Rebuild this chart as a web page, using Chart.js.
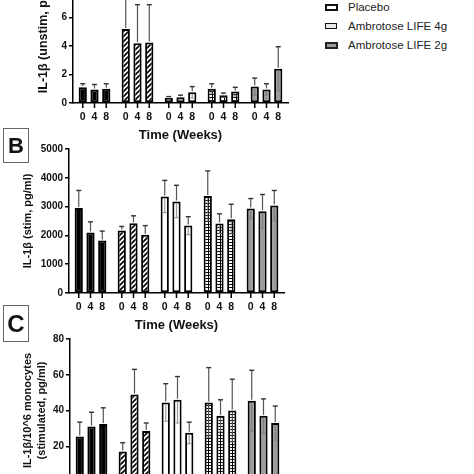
<!DOCTYPE html>
<html>
<head>
<meta charset="utf-8">
<script src="https://cdn.jsdelivr.net/npm/chart.js@4.4.1/dist/chart.umd.min.js"></script>
<style>
  html, body { margin: 0; padding: 0; background: #fff; overflow: hidden; width: 474px; height: 474px; position: relative; }
  canvas { position: absolute; left: 0; }
  #cA { top: -50px; }
  #cB { top: 140px; }
  #cC { top: 330px; }
  .panel { position: absolute; left: 3px; width: 24px; border: 1px solid #666; text-align: center;
           font: bold 22px Arial, "Liberation Sans", sans-serif; color: #111; }
  #legend { position: absolute; left: 325px; top: 0; font: 11.5px Arial, "Liberation Sans", sans-serif; color: #222; }
  .item { position: absolute; left: 0; height: 19px; line-height: 19px; white-space: nowrap; padding-left: 23px; }
  .icon { position: absolute; left: 0; top: 6px; width: 9px; height: 3px; border: 2px solid #111; }
</style>
</head>
<body>
<canvas id="cA" width="289" height="193"></canvas>
<canvas id="cB" width="285" height="193"></canvas>
<canvas id="cC" width="286" height="192"></canvas>
<div class="panel" style="top:128px;height:33px;line-height:33px">B</div>
<div class="panel" style="top:305px;height:35px;line-height:35px;font-size:24px">C</div>
<div id="legend"></div>

<script>
// Données (moyenne et barre d'erreur, par groupe : semaines 0, 4, 8)
const groupes = ['Groupe 1', 'Groupe 2', 'Placebo', 'Ambrotose LIFE 4g', 'Ambrotose LIFE 2g'];
const semaines = ['0', '4', '8'];
const legendeVisible = ['Placebo', 'Ambrotose LIFE 4g', 'Ambrotose LIFE 2g'];

// A : IL-1β non stimulé
const moyA = [[1.1, 0.95, 1.0], [5.2, 4.2, 4.25], [0.35, 0.4, 0.75], [1.0, 0.55, 0.8], [1.15, 0.95, 2.4]];
const errA = [[0.25, 0.35, 0.35], [3.0, 2.7, 2.65], [0.1, 0.15, 0.4], [0.35, 0.15, 0.3], [0.6, 0.4, 1.55]];
const ticksA = [0, 2, 4, 6, 8, 10];

// B : IL-1β stimulé
const moyB = [[2950, 2100, 1820], [2170, 2420, 2020], [3350, 3180, 2340], [3370, 2410, 2565], [2930, 2840, 3035]];
const errB = [[610, 370, 330], [140, 260, 320], [560, 560, 310], [870, 340, 515], [350, 580, 525]];
const ticksB = [0, 1000, 2000, 3000, 4000, 5000];

// C : IL-1β / 10^6 monocytes
const moyC = [[25.5, 31, 32.5], [17, 49, 28.5], [44.5, 46, 27.5], [44.5, 37, 40], [45.5, 37, 33]];
const errC = [[8, 8, 9], [5, 14, 4.5], [10.5, 13, 6], [19.5, 9, 17.5], [17, 9.5, 9.5]];
const ticksC = [0, 20, 40, 60, 80];

const POLICE = 'Arial, "Liberation Sans", sans-serif';
Chart.defaults.font.family = POLICE;
Chart.defaults.color = '#111';

// Motifs de remplissage
function motif(dessin, w, h) {
  const c = document.createElement('canvas');
  c.width = w; c.height = h;
  const g = c.getContext('2d');
  g.fillStyle = '#fff';
  g.fillRect(0, 0, w, h);
  g.fillStyle = '#000';
  g.strokeStyle = '#000';
  dessin(g, w, h);
  return g.createPattern(c, 'repeat');
}

const hachures = motif((g, w, h) => {
  g.lineWidth = 1.7;
  g.beginPath();
  g.moveTo(0, h); g.lineTo(w, 0);
  g.moveTo(-1, 1); g.lineTo(1, -1);
  g.moveTo(w - 1, h + 1); g.lineTo(w + 1, h - 1);
  g.stroke();
}, 5, 5);

const grille = motif((g, w, h) => {
  g.fillRect(0, 0, w, 1);
  g.fillRect(0, 0, 1, h);
}, 4, 3);

const remplissages = ['#000', hachures, '#fff', grille, '#9b9b9b'];
const moustacheBasse = [false, false, true, true, true];

// Barres d'erreur
const barresErreur = {
  id: 'barresErreur',
  afterDatasetsDraw(chart) {
    const ctx = chart.ctx;
    const y = chart.scales.y;
    ctx.save();
    chart.data.datasets.forEach((ds, di) => {
      chart.getDatasetMeta(di).data.forEach((bar, i) => {
        const v = ds.data[i], e = ds.erreurs[i];
        const yv = y.getPixelForValue(v);
        const yh = y.getPixelForValue(v + e);
        ctx.lineWidth = 1.2;
        ctx.strokeStyle = '#555';
        ctx.beginPath();
        ctx.moveTo(bar.x, yv - 1);
        ctx.lineTo(bar.x, yh);
        ctx.stroke();
        ctx.strokeStyle = '#333';
        ctx.lineWidth = 1.4;
        ctx.beginPath();
        ctx.moveTo(bar.x - 2.5, yh);
        ctx.lineTo(bar.x + 2.5, yh);
        ctx.stroke();
        if (moustacheBasse[i]) {
          const yb = y.getPixelForValue(Math.max(v - e, 0));
          ctx.strokeStyle = 'rgba(120,120,120,0.75)';
          ctx.lineWidth = 1.2;
          ctx.beginPath();
          ctx.moveTo(bar.x, yv + 2);
          ctx.lineTo(bar.x, yb);
          ctx.moveTo(bar.x - 2, yb);
          ctx.lineTo(bar.x + 2, yb);
          ctx.stroke();
        }
      });
    });
    ctx.restore();
  }
};

// Graduations 0 / 4 / 8 sous chaque barre
const etiquettesX = {
  id: 'etiquettesX',
  afterDraw(chart) {
    const ctx = chart.ctx;
    const bas = chart.chartArea.bottom;
    ctx.save();
    ctx.strokeStyle = '#000';
    ctx.lineWidth = 1.5;
    ctx.fillStyle = '#111';
    ctx.font = 'bold 10.5px ' + POLICE;
    ctx.textAlign = 'center';
    ctx.textBaseline = 'middle';
    chart.data.datasets.forEach((ds, di) => {
      chart.getDatasetMeta(di).data.forEach(bar => {
        ctx.beginPath();
        ctx.moveTo(bar.x, bas);
        ctx.lineTo(bar.x, bas + 5);
        ctx.stroke();
        ctx.fillText(ds.label, bar.x, bas + 14);
      });
    });
    ctx.restore();
  }
};

function graphique(id, moy, err, graduations, titreY, cfg) {
  const datasets = semaines.map((s, k) => ({
    label: s,
    data: moy.map(g => g[k]),
    erreurs: err.map(g => g[k]),
    backgroundColor: remplissages,
    borderColor: '#000',
    borderWidth: 2,
    borderSkipped: false,
    barPercentage: 0.7,
    categoryPercentage: 0.82
  }));

  return new Chart(document.getElementById(id), {
    type: 'bar',
    data: { labels: groupes, datasets },
    options: {
      responsive: false,
      animation: false,
      layout: { padding: { top: cfg.padHaut, left: 0, right: 1, bottom: 0 } },
      plugins: { legend: { display: false }, tooltip: { enabled: false } },
      scales: {
        x: {
          grid: { display: false },
          border: { color: '#000', width: 1.5 },
          ticks: { display: false },
          title: { display: true, text: 'Time (Weeks)', font: { size: 13, weight: 'bold' }, padding: 0, color: '#111' },
          afterFit: s => { s.height = 40; }
        },
        y: {
          min: graduations[0],
          max: graduations[graduations.length - 1],
          afterBuildTicks: s => { s.ticks = graduations.map(v => ({ value: v })); },
          grid: { drawOnChartArea: false, drawTicks: true, tickLength: 4, color: '#000', lineWidth: 1.5 },
          border: { color: '#000', width: 1.5 },
          ticks: { font: { size: 10, weight: 'bold' }, padding: 2, color: '#111', callback: v => String(v) },
          title: { display: true, text: titreY, font: { size: cfg.tailleTitre, weight: 'bold', lineHeight: 1.27 }, padding: { top: cfg.padTitre, bottom: 0 }, color: '#111' },
          afterFit: s => { s.width = cfg.largeurY; }
        }
      }
    },
    plugins: [barresErreur, etiquettesX]
  });
}

graphique('cA', moyA, errA, ticksA, 'IL-1β (unstim, pg/ml)', { largeurY: 73, padTitre: 36, padHaut: 10.5, tailleTitre: 12.5 });
graphique('cB', moyB, errB, ticksB, 'IL-1β (stim, pg/ml)', { largeurY: 69, padTitre: 21, padHaut: 9, tailleTitre: 11 });
graphique('cC', moyC, errC, ticksC, ['IL-1β/10^6 monocytes', '(stimulated, pg/ml)'], { largeurY: 70, padTitre: 21, padHaut: 9, tailleTitre: 11 });

// Légende
const icones = {
  'Placebo': 'background:#fff;border-color:#111',
  'Ambrotose LIFE 4g': 'background:#e8e8e8;border-width:1.5px;width:10px;height:4px',
  'Ambrotose LIFE 2g': 'background:#9b9b9b;border-color:#222'
};
const legende = document.getElementById('legend');
legendeVisible.forEach((nom, i) => {
  const item = document.createElement('div');
  item.className = 'item';
  item.style.top = (-2 + i * 19.2) + 'px';
  item.innerHTML = `<span class="icon" style="${icones[nom]}"></span>${nom}`;
  legende.appendChild(item);
});
</script>
</body>
</html>
